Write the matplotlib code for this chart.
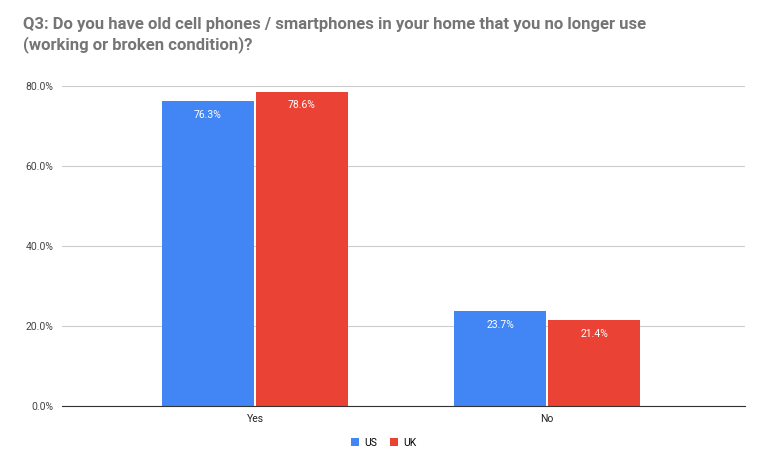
import matplotlib
matplotlib.use("Agg")
import matplotlib.pyplot as plt
import numpy as np

categories = ["Yes", "No"]
us = [76.3, 23.7]
uk = [78.6, 21.4]

fig = plt.figure(figsize=(7.68, 4.75), dpi=100)
ax = fig.add_axes([62/768, 1-406/475, 683/768, 320/475])
x = np.arange(len(categories))
w = 0.318
b1 = ax.bar(x - w/2 - 0.002, us, w, color="#4285f4", label="US")
b2 = ax.bar(x + w/2 + 0.002, uk, w, color="#ea4335", label="UK")
for bars, vals in ((b1, us), (b2, uk)):
    for r, v in zip(bars, vals):
        ax.text(r.get_x() + r.get_width()/2, v - 2.2, f"{v:.1f}%", ha="center", va="top",
                color="white", fontsize=7.5, family="Roboto")
ax.set_ylim(0, 80)
ax.set_xlim(-0.661, 1.678)
ax.set_yticks([0, 20, 40, 60, 80])
ax.set_yticklabels([f"{t:.1f}%" for t in [0, 20, 40, 60, 80]], fontsize=7.5, color="#444444", family="Roboto")
ax.set_xticks(x)
ax.set_xticklabels(categories, fontsize=7.5, color="#222222", family="Roboto")
ax.tick_params(length=0, pad=6)
ax.grid(axis="y", color="#cccccc", linewidth=0.8)
ax.set_axisbelow(True)
for s in ["top", "right", "left"]:
    ax.spines[s].set_visible(False)
ax.spines["bottom"].set_color("#333333")
fig.text(23/768, 1-35/475, "Q3: Do you have old cell phones / smartphones in your home that you no longer use\n(working or broken condition)?",
         fontsize=12, fontweight="bold", color="#757575", family="Roboto", va="center", linespacing=1.3)
fig.legend(handles=[b1, b2], loc="center", bbox_to_anchor=(0.5, 1-443/475), ncol=2, frameon=False,
           fontsize=7.5, handlelength=0.8, handleheight=0.8, columnspacing=1.2, handletextpad=0.5,
           prop={"family": "Roboto", "size": 7.5})
fig.savefig("out.png", dpi=100)
